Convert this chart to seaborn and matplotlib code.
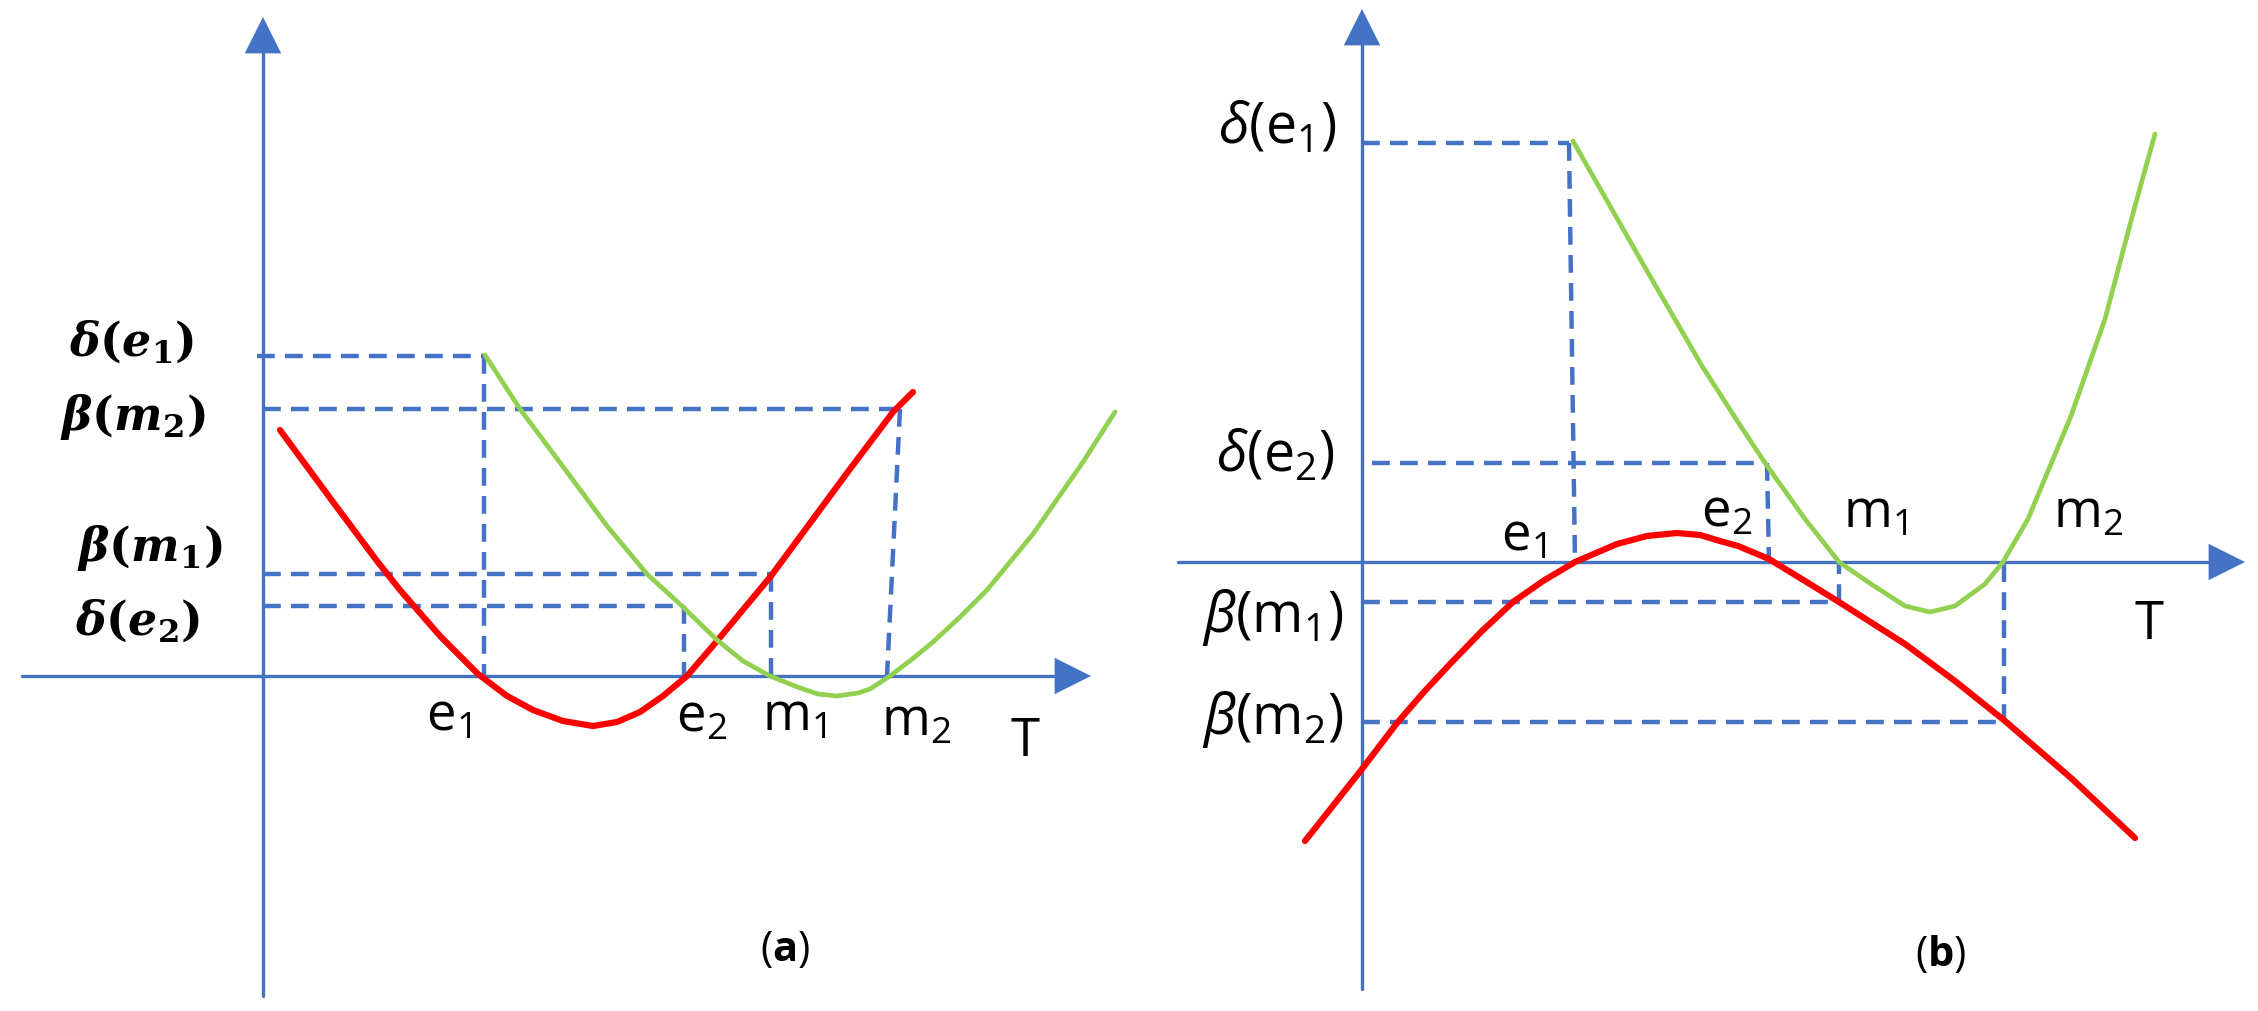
import matplotlib
matplotlib.use("Agg")
import matplotlib.pyplot as plt
import seaborn as sns

# ---------------- data (origin = crossing of the two axes) ----------------
# panel (a)
a_red_T = [0.17, 0.70, 1.14, 1.37, 1.77, 2.15, 2.44, 2.70, 3.00, 3.30, 3.54, 3.77, 4.00, 4.24,
           4.54, 5.08, 5.70, 5.87, 6.30, 6.50]
a_red_v = [2.46, 1.74, 1.15, 0.86, 0.40, 0.02, -0.20, -0.34, -0.45, -0.50, -0.46, -0.36, -0.20, 0.00,
           0.35, 1.00, 1.84, 2.07, 2.64, 2.84]
a_green_T = [2.22, 2.57, 3.04, 3.44, 3.84, 4.20, 4.54, 4.80, 5.07, 5.37, 5.55, 5.74, 5.95, 6.07,
             6.27, 6.48, 6.70, 6.97, 7.24, 7.70, 8.20, 8.52]
a_green_v = [3.21, 2.67, 2.04, 1.50, 1.02, 0.69, 0.36, 0.15, 0.00, -0.12, -0.18, -0.20, -0.17, -0.13,
             0.00, 0.16, 0.34, 0.59, 0.86, 1.42, 2.14, 2.64]
a_T_marks = {"e1": 2.21, "e2": 4.21, "m1": 5.08, "m2": 6.24, "m2_top": 6.37}
a_levels = {"d_e1": 3.20, "b_m2": 2.67, "b_m1": 1.02, "d_e2": 0.70}

# panel (b)
b_red_T = [-0.57, 0.00, 0.35, 0.61, 0.88, 1.20, 1.51, 1.81, 2.13, 2.55, 2.85, 3.15, 3.38, 3.58,
           3.76, 4.07, 4.43, 4.77, 5.43, 5.93, 6.43, 7.09, 7.73]
b_red_v = [-2.79, -2.07, -1.61, -1.31, -1.02, -0.69, -0.40, -0.19, 0.00, 0.18, 0.26, 0.29, 0.27, 0.21,
           0.16, 0.03, -0.19, -0.40, -0.82, -1.19, -1.59, -2.16, -2.76]
b_green_T = [2.11, 2.81, 3.40, 3.76, 4.03, 4.43, 4.77, 5.09, 5.43, 5.68, 5.93, 6.23, 6.41, 6.66,
             7.09, 7.43, 7.73, 7.93]
b_green_v = [4.21, 2.98, 1.96, 1.40, 0.99, 0.43, 0.00, -0.22, -0.44, -0.50, -0.44, -0.22, 0.00, 0.43,
             1.46, 2.43, 3.56, 4.28]
b_T_marks = {"e1": 2.13, "e1_top": 2.07, "e2": 4.07, "e2_top": 4.05, "m1": 4.77, "m2": 6.42}
b_levels = {"d_e1": 4.19, "d_e2": 0.99, "b_m1": -0.40, "b_m2": -1.60}

blue = "#4472C4"
red = "#FF0000"
green = "#92D050"

sns.set_theme(style="white")
plt.rcParams["font.family"] = ["Open Sans", "DejaVu Sans"]
plt.rcParams["mathtext.fontset"] = "custom"
plt.rcParams["mathtext.rm"] = "Open Sans"
plt.rcParams["mathtext.it"] = "Open Sans:italic"
plt.rcParams["mathtext.bf"] = "DejaVu Serif:bold"
plt.rcParams["mathtext.sf"] = "Open Sans:bold"

use_bfit = "mathtext.bfit" in plt.rcParams
if use_bfit:
    plt.rcParams["mathtext.bfit"] = "DejaVu Serif:italic:bold"
    a_ylabels = [r"$\mathbfit{\delta}\mathbf{(}\mathbfit{e}_{\mathbf{1}}\mathbf{)}$",
                 r"$\mathbfit{\beta}\mathbf{(}\mathbfit{m}_{\mathbf{2}}\mathbf{)}$",
                 r"$\mathbfit{\beta}\mathbf{(}\mathbfit{m}_{\mathbf{1}}\mathbf{)}$",
                 r"$\mathbfit{\delta}\mathbf{(}\mathbfit{e}_{\mathbf{2}}\mathbf{)}$"]
else:
    a_ylabels = ["δ(e₁)", "β(m₂)", "β(m₁)", "δ(e₂)"]
a_ylabel_pos = [(-1.31, 3.34), (-1.30, 2.60), (-1.13, 1.29), (-1.25, 0.55)]

fig = plt.figure(figsize=(22.58, 10.12), dpi=100, facecolor="w")
ax_a = fig.add_axes([0, 0, 1130 / 2258, 1])
ax_b = fig.add_axes([1130 / 2258, 0, 1128 / 2258, 1])
ax_a.set_xlim(-2.63, 8.67)
ax_a.set_ylim(-3.35, 6.77)
ax_b.set_xlim(-2.32, 8.96)
ax_b.set_ylim(-4.49, 5.63)

dash = dict(color=blue, lw=3.2, linestyle=(0, (4.0, 2.3)))


def axis_arrows(ax, xlo, xhi, ylo, yhi):
    ax.plot([xlo, xhi - 0.3], [0, 0], color=blue, lw=2.4)
    ax.plot([0, 0], [ylo, yhi - 0.3], color=blue, lw=2.4)
    for xy, xyt in [((xhi, 0), (xhi - 0.4, 0)), ((0, yhi), (0, yhi - 0.4))]:
        ax.annotate("", xy=xy, xytext=xyt,
                    arrowprops=dict(arrowstyle="-|>,head_length=2.6,head_width=1.3",
                                    color=blue, lw=0.1, shrinkA=0, shrinkB=0,
                                    mutation_scale=10))


def guide(ax, xs, ys):
    ax.plot(xs, ys, **dash)


# ---------------- panel (a) ----------------
ax = ax_a
axis_arrows(ax, -2.41, 8.28, -3.20, 6.59)
L, M = a_levels, a_T_marks
guide(ax, [-0.06, M["e1"]], [L["d_e1"], L["d_e1"]])
guide(ax, [M["e1"], M["e1"]], [L["d_e1"], 0])
guide(ax, [0, M["m2_top"]], [L["b_m2"], L["b_m2"]])
guide(ax, [M["m2_top"], M["m2"]], [L["b_m2"], 0])
guide(ax, [0, M["m1"]], [L["b_m1"], L["b_m1"]])
guide(ax, [M["m1"], M["m1"]], [L["b_m1"], 0])
guide(ax, [0, M["e2"]], [L["d_e2"], L["d_e2"]])
guide(ax, [M["e2"], M["e2"]], [L["d_e2"], 0])

sns.lineplot(x=a_red_T, y=a_red_v, ax=ax, sort=False, estimator=None,
             color=red, lw=4.5, solid_capstyle="round", solid_joinstyle="round")
sns.lineplot(x=a_green_T, y=a_green_v, ax=ax, sort=False, estimator=None,
             color=green, lw=3.4, solid_joinstyle="round")

for s, (x, y) in zip(a_ylabels, a_ylabel_pos):
    if use_bfit:
        ax.text(x, y, s, fontsize=33, ha="center", va="center", color="black")
    else:
        ax.text(x, y, s, family=["DejaVu Serif"], fontweight="bold", fontstyle="italic",
                fontsize=33, ha="center", va="center", color="black")

lab = dict(fontsize=38, ha="center", va="center", color="black")
ax.text(1.86, -0.40, r"$\mathrm{e}_1$", **lab)
ax.text(4.39, -0.41, r"$\mathrm{e}_2$", **lab)
ax.text(5.31, -0.40, r"$\mathrm{m}_1$", **lab)
ax.text(6.53, -0.45, r"$\mathrm{m}_2$", **lab)
ax.text(7.62, -0.65, "T", **lab)
ax.text(5.22, -2.73, r"($\mathsf{a}$)", fontsize=30, ha="center", va="center", color="black")
ax.axis("off")

# ---------------- panel (b) ----------------
ax = ax_b
axis_arrows(ax, -1.84, 8.83, -4.27, 5.53)
L, M = b_levels, b_T_marks
guide(ax, [0, M["e1_top"]], [L["d_e1"], L["d_e1"]])
guide(ax, [M["e1_top"], M["e1"]], [L["d_e1"], 0])
guide(ax, [0.10, M["e2_top"]], [L["d_e2"], L["d_e2"]])
guide(ax, [M["e2_top"], M["e2"]], [L["d_e2"], 0])
guide(ax, [0, M["m1"]], [L["b_m1"], L["b_m1"]])
guide(ax, [M["m1"], M["m1"]], [L["b_m1"], 0])
guide(ax, [0, M["m2"]], [L["b_m2"], L["b_m2"]])
guide(ax, [M["m2"], M["m2"]], [L["b_m2"], 0])

sns.lineplot(x=b_red_T, y=b_red_v, ax=ax, sort=False, estimator=None,
             color=red, lw=4.5, solid_joinstyle="round")
sns.lineplot(x=b_green_T, y=b_green_v, ax=ax, sort=False, estimator=None,
             color=green, lw=3.4, solid_joinstyle="round")

b_lab = dict(fontsize=40, ha="center", va="center", color="black")
ax.text(-0.85, 4.35, r"$\delta(\mathrm{e}_1)$", **b_lab)
ax.text(-0.87, 1.06, r"$\delta(\mathrm{e}_2)$", **b_lab)
ax.text(-0.89, -0.55, r"$\beta(\mathrm{m}_1)$", **b_lab)
ax.text(-0.89, -1.57, r"$\beta(\mathrm{m}_2)$", **b_lab)

ax.text(1.62, 0.26, r"$\mathrm{e}_1$", **lab)
ax.text(3.65, 0.50, r"$\mathrm{e}_2$", **lab)
ax.text(5.13, 0.49, r"$\mathrm{m}_1$", **lab)
ax.text(7.26, 0.49, r"$\mathrm{m}_2$", **lab)
ax.text(7.87, -0.62, "T", **lab)
ax.text(5.79, -3.92, r"($\mathsf{b}$)", fontsize=30, ha="center", va="center", color="black")
ax.axis("off")

fig.savefig("out.png", dpi=100, facecolor="w")
